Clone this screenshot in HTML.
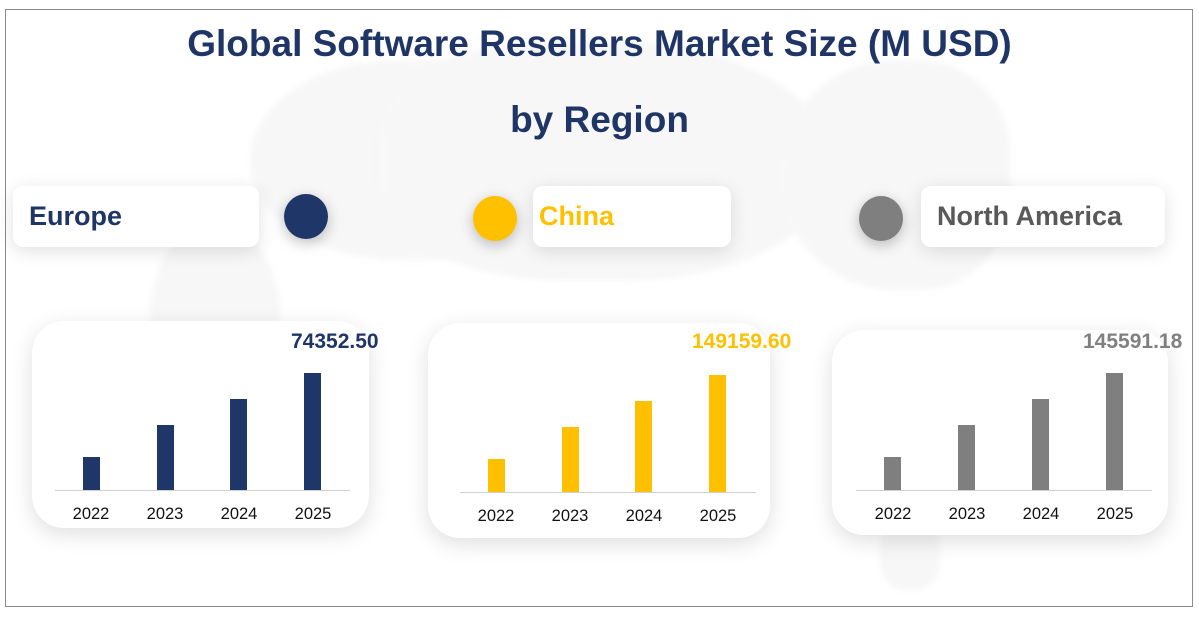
<!DOCTYPE html>
<html><head><meta charset="utf-8"><style>
body{margin:0;width:1199px;height:623px;background:#fff;position:relative;overflow:hidden;font-family:"Liberation Sans",sans-serif}
.abs{position:absolute}
.frame{left:5px;top:9px;width:1188px;height:598px;border:1px solid #8a8a8a;box-sizing:border-box}
.title{left:0;width:1199px;text-align:center;color:#1f3566;font-weight:bold;font-size:37px}
.box{background:#fff;border-radius:10px;box-shadow:0 4px 18px rgba(0,0,0,.12);height:61px;top:186px;font-weight:bold;font-size:27px;line-height:61px;box-sizing:border-box;padding-left:16px}
.dot{width:44px;height:45px;border-radius:50%;box-shadow:0 4px 14px rgba(0,0,0,.25)}
.card{background:#fff;border-radius:32px;box-shadow:0 6px 22px rgba(0,0,0,.13)}
.bar{width:17px}
.base{height:1px;background:#d0d0d0}
.yr{font-size:16.5px;width:60px;text-align:center;color:#111}
.val{font-weight:bold;font-size:21px}
.map{background:#f7f7f7;filter:blur(3px)}
</style></head><body>
<div class="abs map" style="left:250px;top:60px;width:300px;height:200px;border-radius:50% 40% 40% 50%"></div>
<div class="abs map" style="left:380px;top:40px;width:450px;height:240px;border-radius:40% 50% 45% 40%"></div>
<div class="abs map" style="left:150px;top:230px;width:130px;height:220px;border-radius:40%"></div>
<div class="abs map" style="left:780px;top:60px;width:230px;height:230px;border-radius:50% 40% 40% 50%"></div>
<div class="abs map" style="left:880px;top:520px;width:60px;height:70px;border-radius:40%"></div>
<div class="abs frame"></div>
<div class="abs title" style="top:23px">Global Software Resellers Market Size (M USD)</div>
<div class="abs title" style="top:99px">by Region</div>

<div class="abs box" style="left:13px;width:246px;color:#1f3566;padding-left:16px">Europe</div>
<div class="abs dot" style="left:284px;top:194px;background:#1f3668"></div>
<div class="abs dot" style="left:473px;top:196px;background:#ffc000"></div>
<div class="abs box" style="left:533px;width:198px;color:#ffc000;padding-left:6px">China</div>
<div class="abs dot" style="left:859px;top:196px;background:#7f7f7f"></div>
<div class="abs box" style="left:921px;width:244px;color:#595959;padding-left:16px">North America</div>

<!-- Europe -->
<div class="abs card" style="left:32px;top:321px;width:337px;height:207px"></div>
<div class="abs val" style="left:291px;top:330px;color:#1f3566">74352.50</div>
<div class="abs base" style="left:55px;top:490px;width:295px"></div>
<div class="abs bar" style="left:83px;top:457px;height:33px;background:#1f3668"></div>
<div class="abs bar" style="left:157px;top:425px;height:65px;background:#1f3668"></div>
<div class="abs bar" style="left:230px;top:399px;height:91px;background:#1f3668"></div>
<div class="abs bar" style="left:304px;top:373px;height:117px;background:#1f3668"></div>
<div class="abs yr" style="left:61px;top:505px">2022</div>
<div class="abs yr" style="left:135px;top:505px">2023</div>
<div class="abs yr" style="left:209px;top:505px">2024</div>
<div class="abs yr" style="left:283px;top:505px">2025</div>

<!-- China -->
<div class="abs card" style="left:428px;top:323px;width:342px;height:215px"></div>
<div class="abs val" style="left:692px;top:330px;color:#ffc000">149159.60</div>
<div class="abs base" style="left:460px;top:492px;width:296px"></div>
<div class="abs bar" style="left:488px;top:459px;height:33px;background:#ffc000"></div>
<div class="abs bar" style="left:562px;top:427px;height:65px;background:#ffc000"></div>
<div class="abs bar" style="left:635px;top:401px;height:91px;background:#ffc000"></div>
<div class="abs bar" style="left:709px;top:375px;height:117px;background:#ffc000"></div>
<div class="abs yr" style="left:466px;top:507px">2022</div>
<div class="abs yr" style="left:540px;top:507px">2023</div>
<div class="abs yr" style="left:614px;top:507px">2024</div>
<div class="abs yr" style="left:688px;top:507px">2025</div>

<!-- NA -->
<div class="abs card" style="left:832px;top:330px;width:336px;height:205px"></div>
<div class="abs val" style="left:1083px;top:330px;color:#808080">145591.18</div>
<div class="abs base" style="left:856px;top:490px;width:296px"></div>
<div class="abs bar" style="left:884px;top:457px;height:33px;background:#7f7f7f"></div>
<div class="abs bar" style="left:958px;top:425px;height:65px;background:#7f7f7f"></div>
<div class="abs bar" style="left:1032px;top:399px;height:91px;background:#7f7f7f"></div>
<div class="abs bar" style="left:1106px;top:373px;height:117px;background:#7f7f7f"></div>
<div class="abs yr" style="left:863px;top:505px">2022</div>
<div class="abs yr" style="left:937px;top:505px">2023</div>
<div class="abs yr" style="left:1011px;top:505px">2024</div>
<div class="abs yr" style="left:1085px;top:505px">2025</div>
</body></html>
